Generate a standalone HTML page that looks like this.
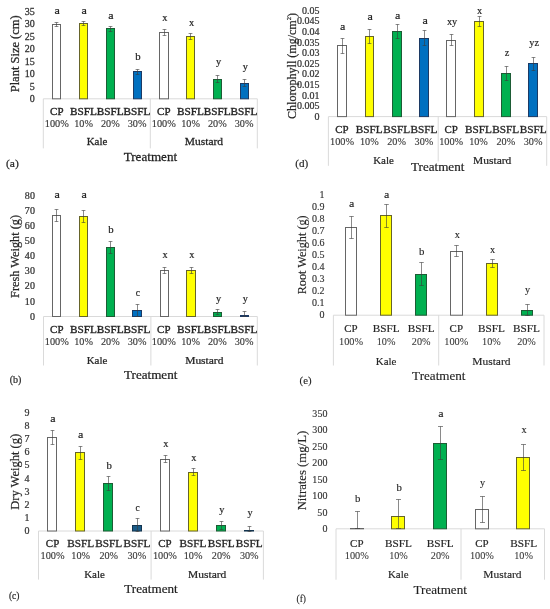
<!DOCTYPE html>
<html><head><meta charset="utf-8"><style>
html,body{margin:0;padding:0;background:#fff;}
svg{display:block; filter:blur(0.3px);}
text{font-family:"Liberation Serif", serif; stroke:currentColor;}
</style></head><body>
<svg width="550" height="609" viewBox="0 0 550 609">
<rect width="550" height="609" fill="#fff"/>
<path d="M43.30 98.80 V148.40 M150.30 98.80 V148.40 M257.30 98.80 V148.40" stroke="#dadada" stroke-width="1" fill="none"/>
<path d="M43.30 98.80 H257.30" stroke="#dadada" stroke-width="1" fill="none"/>
<text x="34.80" y="102.06" font-size="9.6" fill="#333333" color="#333333" text-anchor="end" stroke-width="0.255" textLength="5.00" lengthAdjust="spacingAndGlyphs" >0</text>
<text x="34.80" y="89.59" font-size="9.6" fill="#333333" color="#333333" text-anchor="end" stroke-width="0.255" textLength="5.00" lengthAdjust="spacingAndGlyphs" >5</text>
<text x="34.80" y="77.12" font-size="9.6" fill="#333333" color="#333333" text-anchor="end" stroke-width="0.255" textLength="10.01" lengthAdjust="spacingAndGlyphs" >10</text>
<text x="34.80" y="64.65" font-size="9.6" fill="#333333" color="#333333" text-anchor="end" stroke-width="0.255" textLength="10.01" lengthAdjust="spacingAndGlyphs" >15</text>
<text x="34.80" y="52.18" font-size="9.6" fill="#333333" color="#333333" text-anchor="end" stroke-width="0.255" textLength="10.01" lengthAdjust="spacingAndGlyphs" >20</text>
<text x="34.80" y="39.71" font-size="9.6" fill="#333333" color="#333333" text-anchor="end" stroke-width="0.255" textLength="10.01" lengthAdjust="spacingAndGlyphs" >25</text>
<text x="34.80" y="27.24" font-size="9.6" fill="#333333" color="#333333" text-anchor="end" stroke-width="0.255" textLength="10.01" lengthAdjust="spacingAndGlyphs" >30</text>
<text x="34.80" y="14.77" font-size="9.6" fill="#333333" color="#333333" text-anchor="end" stroke-width="0.255" textLength="10.01" lengthAdjust="spacingAndGlyphs" >35</text>
<rect x="52.50" y="24.50" width="8.00" height="74.30" fill="#ffffff" stroke="#666666" stroke-width="1"/>
<path d="M56.50 22.50 V26.50 M54.60 22.50 H58.40 M54.60 26.50 H58.40" stroke="#3a3a3a" stroke-width="0.6" fill="none"/>
<text x="57.10" y="14.10" font-size="10" fill="#222222" color="#222222" text-anchor="middle" stroke-width="0.187" textLength="5.34" lengthAdjust="spacingAndGlyphs" >a</text>
<rect x="79.50" y="23.50" width="8.00" height="75.30" fill="#ffff00" stroke="#66642a" stroke-width="1"/>
<path d="M83.50 21.50 V25.50 M81.60 21.50 H85.40 M81.60 25.50 H85.40" stroke="#3a3a3a" stroke-width="0.6" fill="none"/>
<text x="84.10" y="14.10" font-size="10" fill="#222222" color="#222222" text-anchor="middle" stroke-width="0.187" textLength="5.34" lengthAdjust="spacingAndGlyphs" >a</text>
<rect x="106.50" y="28.50" width="8.00" height="70.30" fill="#00b050" stroke="#1d5c35" stroke-width="1"/>
<path d="M110.50 26.50 V31.50 M108.60 26.50 H112.40 M108.60 31.50 H112.40" stroke="#3a3a3a" stroke-width="0.6" fill="none"/>
<text x="111.00" y="18.80" font-size="10" fill="#222222" color="#222222" text-anchor="middle" stroke-width="0.187" textLength="5.34" lengthAdjust="spacingAndGlyphs" >a</text>
<rect x="133.50" y="71.50" width="8.00" height="27.30" fill="#0070c0" stroke="#1c3a64" stroke-width="1"/>
<path d="M137.50 69.50 V74.50 M135.60 69.50 H139.40 M135.60 74.50 H139.40" stroke="#3a3a3a" stroke-width="0.6" fill="none"/>
<text x="137.90" y="60.20" font-size="10" fill="#222222" color="#222222" text-anchor="middle" stroke-width="0.187" textLength="5.34" lengthAdjust="spacingAndGlyphs" >b</text>
<rect x="159.50" y="32.50" width="9.00" height="66.30" fill="#ffffff" stroke="#666666" stroke-width="1"/>
<path d="M164.50 29.50 V35.50 M162.60 29.50 H166.40 M162.60 35.50 H166.40" stroke="#3a3a3a" stroke-width="0.6" fill="none"/>
<text x="164.80" y="21.30" font-size="10" fill="#222222" color="#222222" text-anchor="middle" stroke-width="0.187" textLength="5.16" lengthAdjust="spacingAndGlyphs" >x</text>
<rect x="186.50" y="36.50" width="8.00" height="62.30" fill="#ffff00" stroke="#66642a" stroke-width="1"/>
<path d="M190.50 33.50 V39.50 M188.60 33.50 H192.40 M188.60 39.50 H192.40" stroke="#3a3a3a" stroke-width="0.6" fill="none"/>
<text x="191.70" y="25.50" font-size="10" fill="#222222" color="#222222" text-anchor="middle" stroke-width="0.187" textLength="5.16" lengthAdjust="spacingAndGlyphs" >x</text>
<rect x="213.50" y="79.50" width="8.00" height="19.30" fill="#00b050" stroke="#1d5c35" stroke-width="1"/>
<path d="M217.50 75.50 V82.50 M215.60 75.50 H219.40 M215.60 82.50 H219.40" stroke="#3a3a3a" stroke-width="0.6" fill="none"/>
<text x="218.60" y="65.10" font-size="10" fill="#222222" color="#222222" text-anchor="middle" stroke-width="0.187" textLength="5.16" lengthAdjust="spacingAndGlyphs" >y</text>
<rect x="240.50" y="83.50" width="8.00" height="15.30" fill="#0070c0" stroke="#1c3a64" stroke-width="1"/>
<path d="M244.50 79.50 V86.50 M242.60 79.50 H246.40 M242.60 86.50 H246.40" stroke="#3a3a3a" stroke-width="0.6" fill="none"/>
<text x="245.40" y="69.60" font-size="10" fill="#222222" color="#222222" text-anchor="middle" stroke-width="0.187" textLength="5.16" lengthAdjust="spacingAndGlyphs" >y</text>
<text x="56.80" y="115.20" font-size="10" fill="#262626" color="#262626" text-anchor="middle" stroke-width="0.34" textLength="13.33" lengthAdjust="spacingAndGlyphs" >CP</text>
<text x="56.80" y="126.90" font-size="10.8" fill="#3a3a3a" color="#3a3a3a" text-anchor="middle" stroke-width="0.17" textLength="24.01" lengthAdjust="spacingAndGlyphs" >100%</text>
<text x="83.55" y="115.20" font-size="10" fill="#262626" color="#262626" text-anchor="middle" stroke-width="0.34" textLength="26.86" lengthAdjust="spacingAndGlyphs" >BSFL</text>
<text x="83.55" y="126.90" font-size="10.8" fill="#3a3a3a" color="#3a3a3a" text-anchor="middle" stroke-width="0.17" textLength="18.67" lengthAdjust="spacingAndGlyphs" >10%</text>
<text x="110.30" y="115.20" font-size="10" fill="#262626" color="#262626" text-anchor="middle" stroke-width="0.34" textLength="26.86" lengthAdjust="spacingAndGlyphs" >BSFL</text>
<text x="110.30" y="126.90" font-size="10.8" fill="#3a3a3a" color="#3a3a3a" text-anchor="middle" stroke-width="0.17" textLength="18.67" lengthAdjust="spacingAndGlyphs" >20%</text>
<text x="137.05" y="115.20" font-size="10" fill="#262626" color="#262626" text-anchor="middle" stroke-width="0.34" textLength="26.86" lengthAdjust="spacingAndGlyphs" >BSFL</text>
<text x="137.05" y="126.90" font-size="10.8" fill="#3a3a3a" color="#3a3a3a" text-anchor="middle" stroke-width="0.17" textLength="18.67" lengthAdjust="spacingAndGlyphs" >30%</text>
<text x="163.80" y="115.20" font-size="10" fill="#262626" color="#262626" text-anchor="middle" stroke-width="0.34" textLength="13.33" lengthAdjust="spacingAndGlyphs" >CP</text>
<text x="163.80" y="126.90" font-size="10.8" fill="#3a3a3a" color="#3a3a3a" text-anchor="middle" stroke-width="0.17" textLength="24.01" lengthAdjust="spacingAndGlyphs" >100%</text>
<text x="190.55" y="115.20" font-size="10" fill="#262626" color="#262626" text-anchor="middle" stroke-width="0.34" textLength="26.86" lengthAdjust="spacingAndGlyphs" >BSFL</text>
<text x="190.55" y="126.90" font-size="10.8" fill="#3a3a3a" color="#3a3a3a" text-anchor="middle" stroke-width="0.17" textLength="18.67" lengthAdjust="spacingAndGlyphs" >10%</text>
<text x="217.30" y="115.20" font-size="10" fill="#262626" color="#262626" text-anchor="middle" stroke-width="0.34" textLength="26.86" lengthAdjust="spacingAndGlyphs" >BSFL</text>
<text x="217.30" y="126.90" font-size="10.8" fill="#3a3a3a" color="#3a3a3a" text-anchor="middle" stroke-width="0.17" textLength="18.67" lengthAdjust="spacingAndGlyphs" >20%</text>
<text x="244.05" y="115.20" font-size="10" fill="#262626" color="#262626" text-anchor="middle" stroke-width="0.34" textLength="26.86" lengthAdjust="spacingAndGlyphs" >BSFL</text>
<text x="244.05" y="126.90" font-size="10.8" fill="#3a3a3a" color="#3a3a3a" text-anchor="middle" stroke-width="0.17" textLength="18.67" lengthAdjust="spacingAndGlyphs" >30%</text>
<text x="97.00" y="145.30" font-size="10" fill="#262626" color="#262626" text-anchor="middle" stroke-width="0.255" textLength="20.63" lengthAdjust="spacingAndGlyphs" >Kale</text>
<text x="204.00" y="145.30" font-size="10" fill="#262626" color="#262626" text-anchor="middle" stroke-width="0.255" textLength="38.22" lengthAdjust="spacingAndGlyphs" >Mustard</text>
<text x="150.40" y="161.00" font-size="13" fill="#1e1e1e" color="#1e1e1e" text-anchor="middle" stroke-width="0.255" textLength="53.41" lengthAdjust="spacingAndGlyphs" >Treatment</text>
<text x="6.00" y="166.50" font-size="11" fill="#262626" color="#262626" text-anchor="start" stroke-width="0.2125" textLength="12.77" lengthAdjust="spacingAndGlyphs" >(a)</text>
<text transform="translate(18.60 53.80) rotate(-90)" x="0" y="0" font-size="13.3" fill="#262626" color="#262626" stroke-width="0.26" text-anchor="middle" textLength="77.00" lengthAdjust="spacingAndGlyphs">Plant Size (cm)</text>
<path d="M328.40 116.60 V165.80 M438.20 116.60 V161.50 M546.70 116.60 V165.80" stroke="#dadada" stroke-width="1" fill="none"/>
<path d="M328.40 116.60 H546.70" stroke="#dadada" stroke-width="1" fill="none"/>
<text x="319.60" y="119.86" font-size="9.6" fill="#333333" color="#333333" text-anchor="end" stroke-width="0.21" textLength="5.00" lengthAdjust="spacingAndGlyphs" >0</text>
<text x="319.60" y="109.26" font-size="9.6" fill="#333333" color="#333333" text-anchor="end" stroke-width="0.21" textLength="22.52" lengthAdjust="spacingAndGlyphs" >0.005</text>
<text x="319.60" y="98.66" font-size="9.6" fill="#333333" color="#333333" text-anchor="end" stroke-width="0.21" textLength="17.51" lengthAdjust="spacingAndGlyphs" >0.01</text>
<text x="319.60" y="88.06" font-size="9.6" fill="#333333" color="#333333" text-anchor="end" stroke-width="0.21" textLength="22.52" lengthAdjust="spacingAndGlyphs" >0.015</text>
<text x="319.60" y="77.46" font-size="9.6" fill="#333333" color="#333333" text-anchor="end" stroke-width="0.21" textLength="17.51" lengthAdjust="spacingAndGlyphs" >0.02</text>
<text x="319.60" y="66.86" font-size="9.6" fill="#333333" color="#333333" text-anchor="end" stroke-width="0.21" textLength="22.52" lengthAdjust="spacingAndGlyphs" >0.025</text>
<text x="319.60" y="56.26" font-size="9.6" fill="#333333" color="#333333" text-anchor="end" stroke-width="0.21" textLength="17.51" lengthAdjust="spacingAndGlyphs" >0.03</text>
<text x="319.60" y="45.66" font-size="9.6" fill="#333333" color="#333333" text-anchor="end" stroke-width="0.21" textLength="22.52" lengthAdjust="spacingAndGlyphs" >0.035</text>
<text x="319.60" y="35.06" font-size="9.6" fill="#333333" color="#333333" text-anchor="end" stroke-width="0.21" textLength="17.51" lengthAdjust="spacingAndGlyphs" >0.04</text>
<text x="319.60" y="24.46" font-size="9.6" fill="#333333" color="#333333" text-anchor="end" stroke-width="0.21" textLength="22.52" lengthAdjust="spacingAndGlyphs" >0.045</text>
<text x="319.60" y="13.86" font-size="9.6" fill="#333333" color="#333333" text-anchor="end" stroke-width="0.21" textLength="17.51" lengthAdjust="spacingAndGlyphs" >0.05</text>
<rect x="337.50" y="45.50" width="9.00" height="71.10" fill="#ffffff" stroke="#666666" stroke-width="1"/>
<path d="M342.50 38.50 V53.50 M340.60 38.50 H344.40 M340.60 53.50 H344.40" stroke="#3a3a3a" stroke-width="0.6" fill="none"/>
<text x="342.80" y="29.60" font-size="10" fill="#222222" color="#222222" text-anchor="middle" stroke-width="0.154" textLength="5.34" lengthAdjust="spacingAndGlyphs" >a</text>
<rect x="365.50" y="36.50" width="8.00" height="80.10" fill="#ffff00" stroke="#66642a" stroke-width="1"/>
<path d="M369.50 29.50 V43.50 M367.60 29.50 H371.40 M367.60 43.50 H371.40" stroke="#3a3a3a" stroke-width="0.6" fill="none"/>
<text x="370.30" y="20.10" font-size="10" fill="#222222" color="#222222" text-anchor="middle" stroke-width="0.154" textLength="5.34" lengthAdjust="spacingAndGlyphs" >a</text>
<rect x="392.50" y="31.50" width="9.00" height="85.10" fill="#00b050" stroke="#1d5c35" stroke-width="1"/>
<path d="M397.50 24.50 V38.50 M395.60 24.50 H399.40 M395.60 38.50 H399.40" stroke="#3a3a3a" stroke-width="0.6" fill="none"/>
<text x="397.80" y="18.60" font-size="10" fill="#222222" color="#222222" text-anchor="middle" stroke-width="0.154" textLength="5.34" lengthAdjust="spacingAndGlyphs" >a</text>
<rect x="419.50" y="38.50" width="9.00" height="78.10" fill="#0070c0" stroke="#1c3a64" stroke-width="1"/>
<path d="M424.50 30.50 V45.50 M422.60 30.50 H426.40 M422.60 45.50 H426.40" stroke="#3a3a3a" stroke-width="0.6" fill="none"/>
<text x="425.20" y="23.70" font-size="10" fill="#222222" color="#222222" text-anchor="middle" stroke-width="0.154" textLength="5.34" lengthAdjust="spacingAndGlyphs" >a</text>
<rect x="446.50" y="40.50" width="9.00" height="76.10" fill="#ffffff" stroke="#666666" stroke-width="1"/>
<path d="M451.50 34.50 V45.50 M449.60 34.50 H453.40 M449.60 45.50 H453.40" stroke="#3a3a3a" stroke-width="0.6" fill="none"/>
<text x="452.10" y="24.90" font-size="10" fill="#222222" color="#222222" text-anchor="middle" stroke-width="0.154" textLength="10.31" lengthAdjust="spacingAndGlyphs" >xy</text>
<rect x="474.50" y="21.50" width="9.00" height="95.10" fill="#ffff00" stroke="#66642a" stroke-width="1"/>
<path d="M479.50 16.50 V26.50 M477.60 16.50 H481.40 M477.60 26.50 H481.40" stroke="#3a3a3a" stroke-width="0.6" fill="none"/>
<text x="479.60" y="13.60" font-size="10" fill="#222222" color="#222222" text-anchor="middle" stroke-width="0.154" textLength="5.16" lengthAdjust="spacingAndGlyphs" >x</text>
<rect x="501.50" y="73.50" width="9.00" height="43.10" fill="#00b050" stroke="#1d5c35" stroke-width="1"/>
<path d="M506.50 66.50 V80.50 M504.60 66.50 H508.40 M504.60 80.50 H508.40" stroke="#3a3a3a" stroke-width="0.6" fill="none"/>
<text x="507.10" y="56.20" font-size="10" fill="#222222" color="#222222" text-anchor="middle" stroke-width="0.154" textLength="4.62" lengthAdjust="spacingAndGlyphs" >z</text>
<rect x="528.50" y="63.50" width="9.00" height="53.10" fill="#0070c0" stroke="#1c3a64" stroke-width="1"/>
<path d="M533.50 57.50 V70.50 M531.60 57.50 H535.40 M531.60 70.50 H535.40" stroke="#3a3a3a" stroke-width="0.6" fill="none"/>
<text x="534.20" y="46.10" font-size="10" fill="#222222" color="#222222" text-anchor="middle" stroke-width="0.154" textLength="9.77" lengthAdjust="spacingAndGlyphs" >yz</text>
<text x="342.00" y="133.30" font-size="10" fill="#262626" color="#262626" text-anchor="middle" stroke-width="0.27999999999999997" textLength="13.33" lengthAdjust="spacingAndGlyphs" >CP</text>
<text x="342.00" y="144.90" font-size="10.8" fill="#3a3a3a" color="#3a3a3a" text-anchor="middle" stroke-width="0.13999999999999999" textLength="24.01" lengthAdjust="spacingAndGlyphs" >100%</text>
<text x="369.30" y="133.30" font-size="10" fill="#262626" color="#262626" text-anchor="middle" stroke-width="0.27999999999999997" textLength="26.86" lengthAdjust="spacingAndGlyphs" >BSFL</text>
<text x="369.30" y="144.90" font-size="10.8" fill="#3a3a3a" color="#3a3a3a" text-anchor="middle" stroke-width="0.13999999999999999" textLength="18.67" lengthAdjust="spacingAndGlyphs" >10%</text>
<text x="396.60" y="133.30" font-size="10" fill="#262626" color="#262626" text-anchor="middle" stroke-width="0.27999999999999997" textLength="26.86" lengthAdjust="spacingAndGlyphs" >BSFL</text>
<text x="396.60" y="144.90" font-size="10.8" fill="#3a3a3a" color="#3a3a3a" text-anchor="middle" stroke-width="0.13999999999999999" textLength="18.67" lengthAdjust="spacingAndGlyphs" >20%</text>
<text x="423.90" y="133.30" font-size="10" fill="#262626" color="#262626" text-anchor="middle" stroke-width="0.27999999999999997" textLength="26.86" lengthAdjust="spacingAndGlyphs" >BSFL</text>
<text x="423.90" y="144.90" font-size="10.8" fill="#3a3a3a" color="#3a3a3a" text-anchor="middle" stroke-width="0.13999999999999999" textLength="18.67" lengthAdjust="spacingAndGlyphs" >30%</text>
<text x="451.20" y="133.30" font-size="10" fill="#262626" color="#262626" text-anchor="middle" stroke-width="0.27999999999999997" textLength="13.33" lengthAdjust="spacingAndGlyphs" >CP</text>
<text x="451.20" y="144.90" font-size="10.8" fill="#3a3a3a" color="#3a3a3a" text-anchor="middle" stroke-width="0.13999999999999999" textLength="24.01" lengthAdjust="spacingAndGlyphs" >100%</text>
<text x="478.50" y="133.30" font-size="10" fill="#262626" color="#262626" text-anchor="middle" stroke-width="0.27999999999999997" textLength="26.86" lengthAdjust="spacingAndGlyphs" >BSFL</text>
<text x="478.50" y="144.90" font-size="10.8" fill="#3a3a3a" color="#3a3a3a" text-anchor="middle" stroke-width="0.13999999999999999" textLength="18.67" lengthAdjust="spacingAndGlyphs" >10%</text>
<text x="505.80" y="133.30" font-size="10" fill="#262626" color="#262626" text-anchor="middle" stroke-width="0.27999999999999997" textLength="26.86" lengthAdjust="spacingAndGlyphs" >BSFL</text>
<text x="505.80" y="144.90" font-size="10.8" fill="#3a3a3a" color="#3a3a3a" text-anchor="middle" stroke-width="0.13999999999999999" textLength="18.67" lengthAdjust="spacingAndGlyphs" >20%</text>
<text x="533.10" y="133.30" font-size="10" fill="#262626" color="#262626" text-anchor="middle" stroke-width="0.27999999999999997" textLength="26.86" lengthAdjust="spacingAndGlyphs" >BSFL</text>
<text x="533.10" y="144.90" font-size="10.8" fill="#3a3a3a" color="#3a3a3a" text-anchor="middle" stroke-width="0.13999999999999999" textLength="18.67" lengthAdjust="spacingAndGlyphs" >30%</text>
<text x="383.50" y="164.10" font-size="10" fill="#262626" color="#262626" text-anchor="middle" stroke-width="0.21" textLength="20.63" lengthAdjust="spacingAndGlyphs" >Kale</text>
<text x="492.20" y="164.10" font-size="10" fill="#262626" color="#262626" text-anchor="middle" stroke-width="0.21" textLength="38.22" lengthAdjust="spacingAndGlyphs" >Mustard</text>
<text x="437.70" y="171.00" font-size="13" fill="#1e1e1e" color="#1e1e1e" text-anchor="middle" stroke-width="0.21" textLength="53.41" lengthAdjust="spacingAndGlyphs" >Treatment</text>
<text x="295.30" y="167.00" font-size="11" fill="#262626" color="#262626" text-anchor="start" stroke-width="0.175" textLength="12.96" lengthAdjust="spacingAndGlyphs" >(d)</text>
<text transform="translate(296.20 66.00) rotate(-90)" x="0" y="0" font-size="13.0" fill="#262626" color="#262626" stroke-width="0.21" text-anchor="middle" textLength="106.00" lengthAdjust="spacingAndGlyphs">Chlorophyll (mg/cm<tspan font-size="7" dy="-5">2</tspan><tspan dy="5">)</tspan></text>
<path d="M43.50 316.50 V365.50 M150.90 316.50 V365.50 M257.30 316.50 V365.50" stroke="#dadada" stroke-width="1" fill="none"/>
<path d="M43.50 316.50 H257.30" stroke="#dadada" stroke-width="1" fill="none"/>
<text x="34.90" y="319.76" font-size="9.6" fill="#333333" color="#333333" text-anchor="end" stroke-width="0.24" textLength="5.00" lengthAdjust="spacingAndGlyphs" >0</text>
<text x="34.90" y="304.61" font-size="9.6" fill="#333333" color="#333333" text-anchor="end" stroke-width="0.24" textLength="10.01" lengthAdjust="spacingAndGlyphs" >10</text>
<text x="34.90" y="289.46" font-size="9.6" fill="#333333" color="#333333" text-anchor="end" stroke-width="0.24" textLength="10.01" lengthAdjust="spacingAndGlyphs" >20</text>
<text x="34.90" y="274.31" font-size="9.6" fill="#333333" color="#333333" text-anchor="end" stroke-width="0.24" textLength="10.01" lengthAdjust="spacingAndGlyphs" >30</text>
<text x="34.90" y="259.16" font-size="9.6" fill="#333333" color="#333333" text-anchor="end" stroke-width="0.24" textLength="10.01" lengthAdjust="spacingAndGlyphs" >40</text>
<text x="34.90" y="244.01" font-size="9.6" fill="#333333" color="#333333" text-anchor="end" stroke-width="0.24" textLength="10.01" lengthAdjust="spacingAndGlyphs" >50</text>
<text x="34.90" y="228.86" font-size="9.6" fill="#333333" color="#333333" text-anchor="end" stroke-width="0.24" textLength="10.01" lengthAdjust="spacingAndGlyphs" >60</text>
<text x="34.90" y="213.71" font-size="9.6" fill="#333333" color="#333333" text-anchor="end" stroke-width="0.24" textLength="10.01" lengthAdjust="spacingAndGlyphs" >70</text>
<text x="34.90" y="198.56" font-size="9.6" fill="#333333" color="#333333" text-anchor="end" stroke-width="0.24" textLength="10.01" lengthAdjust="spacingAndGlyphs" >80</text>
<rect x="52.50" y="215.50" width="8.00" height="101.00" fill="#ffffff" stroke="#666666" stroke-width="1"/>
<path d="M56.50 209.50 V221.50 M54.60 209.50 H58.40 M54.60 221.50 H58.40" stroke="#3a3a3a" stroke-width="0.6" fill="none"/>
<text x="57.30" y="197.60" font-size="10" fill="#222222" color="#222222" text-anchor="middle" stroke-width="0.17600000000000002" textLength="5.34" lengthAdjust="spacingAndGlyphs" >a</text>
<rect x="79.50" y="216.50" width="8.00" height="100.00" fill="#ffff00" stroke="#66642a" stroke-width="1"/>
<path d="M83.50 210.50 V222.50 M81.60 210.50 H85.40 M81.60 222.50 H85.40" stroke="#3a3a3a" stroke-width="0.6" fill="none"/>
<text x="84.30" y="197.60" font-size="10" fill="#222222" color="#222222" text-anchor="middle" stroke-width="0.17600000000000002" textLength="5.34" lengthAdjust="spacingAndGlyphs" >a</text>
<rect x="106.50" y="247.50" width="8.00" height="69.00" fill="#00b050" stroke="#1d5c35" stroke-width="1"/>
<path d="M110.50 241.50 V253.50 M108.60 241.50 H112.40 M108.60 253.50 H112.40" stroke="#3a3a3a" stroke-width="0.6" fill="none"/>
<text x="111.00" y="232.70" font-size="10" fill="#222222" color="#222222" text-anchor="middle" stroke-width="0.17600000000000002" textLength="5.34" lengthAdjust="spacingAndGlyphs" >b</text>
<rect x="132.50" y="310.50" width="9.00" height="6.00" fill="#0070c0" stroke="#1c3a64" stroke-width="1"/>
<path d="M137.50 304.50 V316.50 M135.60 304.50 H139.40 M135.60 316.50 H139.40" stroke="#3a3a3a" stroke-width="0.6" fill="none"/>
<text x="137.90" y="296.10" font-size="10" fill="#222222" color="#222222" text-anchor="middle" stroke-width="0.17600000000000002" textLength="4.26" lengthAdjust="spacingAndGlyphs" >c</text>
<rect x="160.50" y="270.50" width="8.00" height="46.00" fill="#ffffff" stroke="#666666" stroke-width="1"/>
<path d="M164.50 267.50 V273.50 M162.60 267.50 H166.40 M162.60 273.50 H166.40" stroke="#3a3a3a" stroke-width="0.6" fill="none"/>
<text x="165.00" y="257.60" font-size="10" fill="#222222" color="#222222" text-anchor="middle" stroke-width="0.17600000000000002" textLength="5.16" lengthAdjust="spacingAndGlyphs" >x</text>
<rect x="186.50" y="270.50" width="9.00" height="46.00" fill="#ffff00" stroke="#66642a" stroke-width="1"/>
<path d="M191.50 267.50 V273.50 M189.60 267.50 H193.40 M189.60 273.50 H193.40" stroke="#3a3a3a" stroke-width="0.6" fill="none"/>
<text x="191.80" y="258.30" font-size="10" fill="#222222" color="#222222" text-anchor="middle" stroke-width="0.17600000000000002" textLength="5.16" lengthAdjust="spacingAndGlyphs" >x</text>
<rect x="213.50" y="312.50" width="8.00" height="4.00" fill="#00b050" stroke="#1d5c35" stroke-width="1"/>
<path d="M217.50 309.50 V314.50 M215.60 309.50 H219.40 M215.60 314.50 H219.40" stroke="#3a3a3a" stroke-width="0.6" fill="none"/>
<text x="218.50" y="302.40" font-size="10" fill="#222222" color="#222222" text-anchor="middle" stroke-width="0.17600000000000002" textLength="5.16" lengthAdjust="spacingAndGlyphs" >y</text>
<rect x="240.50" y="315.50" width="8.00" height="1.00" fill="#0070c0" stroke="#1c3a64" stroke-width="1"/>
<path d="M244.50 311.50 V316.50 M242.60 311.50 H246.40 M242.60 316.50 H246.40" stroke="#3a3a3a" stroke-width="0.6" fill="none"/>
<text x="245.30" y="302.40" font-size="10" fill="#222222" color="#222222" text-anchor="middle" stroke-width="0.17600000000000002" textLength="5.16" lengthAdjust="spacingAndGlyphs" >y</text>
<text x="56.80" y="332.80" font-size="10" fill="#262626" color="#262626" text-anchor="middle" stroke-width="0.32000000000000006" textLength="13.33" lengthAdjust="spacingAndGlyphs" >CP</text>
<text x="56.80" y="345.30" font-size="10.8" fill="#3a3a3a" color="#3a3a3a" text-anchor="middle" stroke-width="0.16000000000000003" textLength="24.01" lengthAdjust="spacingAndGlyphs" >100%</text>
<text x="83.55" y="332.80" font-size="10" fill="#262626" color="#262626" text-anchor="middle" stroke-width="0.32000000000000006" textLength="26.86" lengthAdjust="spacingAndGlyphs" >BSFL</text>
<text x="83.55" y="345.30" font-size="10.8" fill="#3a3a3a" color="#3a3a3a" text-anchor="middle" stroke-width="0.16000000000000003" textLength="18.67" lengthAdjust="spacingAndGlyphs" >10%</text>
<text x="110.30" y="332.80" font-size="10" fill="#262626" color="#262626" text-anchor="middle" stroke-width="0.32000000000000006" textLength="26.86" lengthAdjust="spacingAndGlyphs" >BSFL</text>
<text x="110.30" y="345.30" font-size="10.8" fill="#3a3a3a" color="#3a3a3a" text-anchor="middle" stroke-width="0.16000000000000003" textLength="18.67" lengthAdjust="spacingAndGlyphs" >20%</text>
<text x="137.05" y="332.80" font-size="10" fill="#262626" color="#262626" text-anchor="middle" stroke-width="0.32000000000000006" textLength="26.86" lengthAdjust="spacingAndGlyphs" >BSFL</text>
<text x="137.05" y="345.30" font-size="10.8" fill="#3a3a3a" color="#3a3a3a" text-anchor="middle" stroke-width="0.16000000000000003" textLength="18.67" lengthAdjust="spacingAndGlyphs" >30%</text>
<text x="163.80" y="332.80" font-size="10" fill="#262626" color="#262626" text-anchor="middle" stroke-width="0.32000000000000006" textLength="13.33" lengthAdjust="spacingAndGlyphs" >CP</text>
<text x="163.80" y="345.30" font-size="10.8" fill="#3a3a3a" color="#3a3a3a" text-anchor="middle" stroke-width="0.16000000000000003" textLength="24.01" lengthAdjust="spacingAndGlyphs" >100%</text>
<text x="190.55" y="332.80" font-size="10" fill="#262626" color="#262626" text-anchor="middle" stroke-width="0.32000000000000006" textLength="26.86" lengthAdjust="spacingAndGlyphs" >BSFL</text>
<text x="190.55" y="345.30" font-size="10.8" fill="#3a3a3a" color="#3a3a3a" text-anchor="middle" stroke-width="0.16000000000000003" textLength="18.67" lengthAdjust="spacingAndGlyphs" >10%</text>
<text x="217.30" y="332.80" font-size="10" fill="#262626" color="#262626" text-anchor="middle" stroke-width="0.32000000000000006" textLength="26.86" lengthAdjust="spacingAndGlyphs" >BSFL</text>
<text x="217.30" y="345.30" font-size="10.8" fill="#3a3a3a" color="#3a3a3a" text-anchor="middle" stroke-width="0.16000000000000003" textLength="18.67" lengthAdjust="spacingAndGlyphs" >20%</text>
<text x="244.05" y="332.80" font-size="10" fill="#262626" color="#262626" text-anchor="middle" stroke-width="0.32000000000000006" textLength="26.86" lengthAdjust="spacingAndGlyphs" >BSFL</text>
<text x="244.05" y="345.30" font-size="10.8" fill="#3a3a3a" color="#3a3a3a" text-anchor="middle" stroke-width="0.16000000000000003" textLength="18.67" lengthAdjust="spacingAndGlyphs" >30%</text>
<text x="97.00" y="364.10" font-size="10" fill="#262626" color="#262626" text-anchor="middle" stroke-width="0.24" textLength="20.63" lengthAdjust="spacingAndGlyphs" >Kale</text>
<text x="204.30" y="364.10" font-size="10" fill="#262626" color="#262626" text-anchor="middle" stroke-width="0.24" textLength="38.22" lengthAdjust="spacingAndGlyphs" >Mustard</text>
<text x="150.70" y="379.00" font-size="13" fill="#1e1e1e" color="#1e1e1e" text-anchor="middle" stroke-width="0.24" textLength="53.41" lengthAdjust="spacingAndGlyphs" >Treatment</text>
<text x="9.80" y="382.60" font-size="10" fill="#262626" color="#262626" text-anchor="start" stroke-width="0.2" textLength="11.61" lengthAdjust="spacingAndGlyphs" >(b)</text>
<text transform="translate(18.60 256.40) rotate(-90)" x="0" y="0" font-size="13" fill="#262626" color="#262626" stroke-width="0.24" text-anchor="middle" textLength="83.00" lengthAdjust="spacingAndGlyphs">Fresh Weight (g)</text>
<path d="M333.40 315.20 V365.50 M438.70 315.20 V365.50 M544.00 315.20 V365.50" stroke="#dadada" stroke-width="1" fill="none"/>
<path d="M333.40 315.20 H544.00" stroke="#dadada" stroke-width="1" fill="none"/>
<text x="324.50" y="318.46" font-size="9.6" fill="#333333" color="#333333" text-anchor="end" stroke-width="0.135" textLength="5.00" lengthAdjust="spacingAndGlyphs" >0</text>
<text x="324.50" y="306.46" font-size="9.6" fill="#333333" color="#333333" text-anchor="end" stroke-width="0.135" textLength="12.51" lengthAdjust="spacingAndGlyphs" >0.1</text>
<text x="324.50" y="294.46" font-size="9.6" fill="#333333" color="#333333" text-anchor="end" stroke-width="0.135" textLength="12.51" lengthAdjust="spacingAndGlyphs" >0.2</text>
<text x="324.50" y="282.46" font-size="9.6" fill="#333333" color="#333333" text-anchor="end" stroke-width="0.135" textLength="12.51" lengthAdjust="spacingAndGlyphs" >0.3</text>
<text x="324.50" y="270.46" font-size="9.6" fill="#333333" color="#333333" text-anchor="end" stroke-width="0.135" textLength="12.51" lengthAdjust="spacingAndGlyphs" >0.4</text>
<text x="324.50" y="258.46" font-size="9.6" fill="#333333" color="#333333" text-anchor="end" stroke-width="0.135" textLength="12.51" lengthAdjust="spacingAndGlyphs" >0.5</text>
<text x="324.50" y="246.46" font-size="9.6" fill="#333333" color="#333333" text-anchor="end" stroke-width="0.135" textLength="12.51" lengthAdjust="spacingAndGlyphs" >0.6</text>
<text x="324.50" y="234.46" font-size="9.6" fill="#333333" color="#333333" text-anchor="end" stroke-width="0.135" textLength="12.51" lengthAdjust="spacingAndGlyphs" >0.7</text>
<text x="324.50" y="222.46" font-size="9.6" fill="#333333" color="#333333" text-anchor="end" stroke-width="0.135" textLength="12.51" lengthAdjust="spacingAndGlyphs" >0.8</text>
<text x="324.50" y="210.46" font-size="9.6" fill="#333333" color="#333333" text-anchor="end" stroke-width="0.135" textLength="12.51" lengthAdjust="spacingAndGlyphs" >0.9</text>
<text x="324.50" y="198.46" font-size="9.6" fill="#333333" color="#333333" text-anchor="end" stroke-width="0.135" textLength="5.00" lengthAdjust="spacingAndGlyphs" >1</text>
<rect x="345.50" y="227.50" width="11.00" height="87.70" fill="#ffffff" stroke="#666666" stroke-width="1"/>
<path d="M351.50 216.50 V238.50 M349.25 216.50 H353.75 M349.25 238.50 H353.75" stroke="#3a3a3a" stroke-width="0.6" fill="none"/>
<text x="351.60" y="207.10" font-size="10" fill="#222222" color="#222222" text-anchor="middle" stroke-width="0.099" textLength="5.34" lengthAdjust="spacingAndGlyphs" >a</text>
<rect x="380.50" y="215.50" width="11.00" height="99.70" fill="#ffff00" stroke="#66642a" stroke-width="1"/>
<path d="M386.50 204.50 V227.50 M384.25 204.50 H388.75 M384.25 227.50 H388.75" stroke="#3a3a3a" stroke-width="0.6" fill="none"/>
<text x="386.80" y="197.80" font-size="10" fill="#222222" color="#222222" text-anchor="middle" stroke-width="0.099" textLength="5.34" lengthAdjust="spacingAndGlyphs" >a</text>
<rect x="415.50" y="274.50" width="11.00" height="40.70" fill="#00b050" stroke="#1d5c35" stroke-width="1"/>
<path d="M421.50 262.50 V285.50 M419.25 262.50 H423.75 M419.25 285.50 H423.75" stroke="#3a3a3a" stroke-width="0.6" fill="none"/>
<text x="421.70" y="255.20" font-size="10" fill="#222222" color="#222222" text-anchor="middle" stroke-width="0.099" textLength="5.34" lengthAdjust="spacingAndGlyphs" >b</text>
<rect x="450.50" y="251.50" width="12.00" height="63.70" fill="#ffffff" stroke="#666666" stroke-width="1"/>
<path d="M456.50 245.50 V256.50 M454.25 245.50 H458.75 M454.25 256.50 H458.75" stroke="#3a3a3a" stroke-width="0.6" fill="none"/>
<text x="457.30" y="237.70" font-size="10" fill="#222222" color="#222222" text-anchor="middle" stroke-width="0.099" textLength="5.16" lengthAdjust="spacingAndGlyphs" >x</text>
<rect x="486.50" y="263.50" width="11.00" height="51.70" fill="#ffff00" stroke="#66642a" stroke-width="1"/>
<path d="M492.50 259.50 V267.50 M490.25 259.50 H494.75 M490.25 267.50 H494.75" stroke="#3a3a3a" stroke-width="0.6" fill="none"/>
<text x="492.50" y="252.70" font-size="10" fill="#222222" color="#222222" text-anchor="middle" stroke-width="0.099" textLength="5.16" lengthAdjust="spacingAndGlyphs" >x</text>
<rect x="521.50" y="310.50" width="11.00" height="4.70" fill="#00b050" stroke="#1d5c35" stroke-width="1"/>
<path d="M527.50 304.50 V315.50 M525.25 304.50 H529.75 M525.25 315.50 H529.75" stroke="#3a3a3a" stroke-width="0.6" fill="none"/>
<text x="527.70" y="293.20" font-size="10" fill="#222222" color="#222222" text-anchor="middle" stroke-width="0.099" textLength="5.16" lengthAdjust="spacingAndGlyphs" >y</text>
<text x="351.00" y="332.30" font-size="10" fill="#262626" color="#262626" text-anchor="middle" stroke-width="0.18000000000000002" textLength="13.33" lengthAdjust="spacingAndGlyphs" >CP</text>
<text x="351.00" y="344.90" font-size="10.8" fill="#3a3a3a" color="#3a3a3a" text-anchor="middle" stroke-width="0.09000000000000001" textLength="24.01" lengthAdjust="spacingAndGlyphs" >100%</text>
<text x="386.10" y="332.30" font-size="10" fill="#262626" color="#262626" text-anchor="middle" stroke-width="0.18000000000000002" textLength="26.86" lengthAdjust="spacingAndGlyphs" >BSFL</text>
<text x="386.10" y="344.90" font-size="10.8" fill="#3a3a3a" color="#3a3a3a" text-anchor="middle" stroke-width="0.09000000000000001" textLength="18.67" lengthAdjust="spacingAndGlyphs" >10%</text>
<text x="421.20" y="332.30" font-size="10" fill="#262626" color="#262626" text-anchor="middle" stroke-width="0.18000000000000002" textLength="26.86" lengthAdjust="spacingAndGlyphs" >BSFL</text>
<text x="421.20" y="344.90" font-size="10.8" fill="#3a3a3a" color="#3a3a3a" text-anchor="middle" stroke-width="0.09000000000000001" textLength="18.67" lengthAdjust="spacingAndGlyphs" >20%</text>
<text x="456.30" y="332.30" font-size="10" fill="#262626" color="#262626" text-anchor="middle" stroke-width="0.18000000000000002" textLength="13.33" lengthAdjust="spacingAndGlyphs" >CP</text>
<text x="456.30" y="344.90" font-size="10.8" fill="#3a3a3a" color="#3a3a3a" text-anchor="middle" stroke-width="0.09000000000000001" textLength="24.01" lengthAdjust="spacingAndGlyphs" >100%</text>
<text x="491.40" y="332.30" font-size="10" fill="#262626" color="#262626" text-anchor="middle" stroke-width="0.18000000000000002" textLength="26.86" lengthAdjust="spacingAndGlyphs" >BSFL</text>
<text x="491.40" y="344.90" font-size="10.8" fill="#3a3a3a" color="#3a3a3a" text-anchor="middle" stroke-width="0.09000000000000001" textLength="18.67" lengthAdjust="spacingAndGlyphs" >10%</text>
<text x="526.50" y="332.30" font-size="10" fill="#262626" color="#262626" text-anchor="middle" stroke-width="0.18000000000000002" textLength="26.86" lengthAdjust="spacingAndGlyphs" >BSFL</text>
<text x="526.50" y="344.90" font-size="10.8" fill="#3a3a3a" color="#3a3a3a" text-anchor="middle" stroke-width="0.09000000000000001" textLength="18.67" lengthAdjust="spacingAndGlyphs" >20%</text>
<text x="386.10" y="364.70" font-size="10" fill="#262626" color="#262626" text-anchor="middle" stroke-width="0.135" textLength="20.63" lengthAdjust="spacingAndGlyphs" >Kale</text>
<text x="491.40" y="364.70" font-size="10" fill="#262626" color="#262626" text-anchor="middle" stroke-width="0.135" textLength="38.22" lengthAdjust="spacingAndGlyphs" >Mustard</text>
<text x="438.80" y="380.00" font-size="13" fill="#1e1e1e" color="#1e1e1e" text-anchor="middle" stroke-width="0.135" textLength="53.41" lengthAdjust="spacingAndGlyphs" >Treatment</text>
<text x="299.60" y="384.00" font-size="10.8" fill="#262626" color="#262626" text-anchor="start" stroke-width="0.1125" textLength="11.96" lengthAdjust="spacingAndGlyphs" >(e)</text>
<text transform="translate(306.00 254.80) rotate(-90)" x="0" y="0" font-size="13" fill="#262626" color="#262626" stroke-width="0.14" text-anchor="middle" textLength="79.00" lengthAdjust="spacingAndGlyphs">Root Weight (g)</text>
<path d="M38.50 531.00 V579.60 M151.10 531.00 V579.60 M263.40 531.00 V579.60" stroke="#dadada" stroke-width="1" fill="none"/>
<path d="M38.50 531.00 H263.40" stroke="#dadada" stroke-width="1" fill="none"/>
<text x="29.60" y="534.26" font-size="9.6" fill="#333333" color="#333333" text-anchor="end" stroke-width="0.21" textLength="5.00" lengthAdjust="spacingAndGlyphs" >0</text>
<text x="29.60" y="521.08" font-size="9.6" fill="#333333" color="#333333" text-anchor="end" stroke-width="0.21" textLength="5.00" lengthAdjust="spacingAndGlyphs" >1</text>
<text x="29.60" y="507.90" font-size="9.6" fill="#333333" color="#333333" text-anchor="end" stroke-width="0.21" textLength="5.00" lengthAdjust="spacingAndGlyphs" >2</text>
<text x="29.60" y="494.72" font-size="9.6" fill="#333333" color="#333333" text-anchor="end" stroke-width="0.21" textLength="5.00" lengthAdjust="spacingAndGlyphs" >3</text>
<text x="29.60" y="481.54" font-size="9.6" fill="#333333" color="#333333" text-anchor="end" stroke-width="0.21" textLength="5.00" lengthAdjust="spacingAndGlyphs" >4</text>
<text x="29.60" y="468.36" font-size="9.6" fill="#333333" color="#333333" text-anchor="end" stroke-width="0.21" textLength="5.00" lengthAdjust="spacingAndGlyphs" >5</text>
<text x="29.60" y="455.18" font-size="9.6" fill="#333333" color="#333333" text-anchor="end" stroke-width="0.21" textLength="5.00" lengthAdjust="spacingAndGlyphs" >6</text>
<text x="29.60" y="442.00" font-size="9.6" fill="#333333" color="#333333" text-anchor="end" stroke-width="0.21" textLength="5.00" lengthAdjust="spacingAndGlyphs" >7</text>
<text x="29.60" y="428.82" font-size="9.6" fill="#333333" color="#333333" text-anchor="end" stroke-width="0.21" textLength="5.00" lengthAdjust="spacingAndGlyphs" >8</text>
<text x="29.60" y="415.64" font-size="9.6" fill="#333333" color="#333333" text-anchor="end" stroke-width="0.21" textLength="5.00" lengthAdjust="spacingAndGlyphs" >9</text>
<rect x="47.50" y="437.50" width="9.00" height="93.50" fill="#ffffff" stroke="#666666" stroke-width="1"/>
<path d="M52.50 430.50 V444.50 M50.60 430.50 H54.40 M50.60 444.50 H54.40" stroke="#3a3a3a" stroke-width="0.6" fill="none"/>
<text x="52.90" y="422.10" font-size="10" fill="#222222" color="#222222" text-anchor="middle" stroke-width="0.154" textLength="5.34" lengthAdjust="spacingAndGlyphs" >a</text>
<rect x="75.50" y="452.50" width="9.00" height="78.50" fill="#ffff00" stroke="#66642a" stroke-width="1"/>
<path d="M80.50 446.50 V459.50 M78.60 446.50 H82.40 M78.60 459.50 H82.40" stroke="#3a3a3a" stroke-width="0.6" fill="none"/>
<text x="80.80" y="437.90" font-size="10" fill="#222222" color="#222222" text-anchor="middle" stroke-width="0.154" textLength="5.34" lengthAdjust="spacingAndGlyphs" >a</text>
<rect x="103.50" y="483.50" width="9.00" height="47.50" fill="#00b050" stroke="#1d5c35" stroke-width="1"/>
<path d="M108.50 476.50 V490.50 M106.60 476.50 H110.40 M106.60 490.50 H110.40" stroke="#3a3a3a" stroke-width="0.6" fill="none"/>
<text x="109.20" y="469.40" font-size="10" fill="#222222" color="#222222" text-anchor="middle" stroke-width="0.154" textLength="5.34" lengthAdjust="spacingAndGlyphs" >b</text>
<rect x="132.50" y="525.50" width="9.00" height="5.50" fill="#1a5c88" stroke="#13344f" stroke-width="1"/>
<path d="M137.50 518.50 V531.50 M135.60 518.50 H139.40 M135.60 531.50 H139.40" stroke="#3a3a3a" stroke-width="0.6" fill="none"/>
<text x="137.60" y="510.90" font-size="10" fill="#222222" color="#222222" text-anchor="middle" stroke-width="0.154" textLength="4.26" lengthAdjust="spacingAndGlyphs" >c</text>
<rect x="160.50" y="459.50" width="9.00" height="71.50" fill="#ffffff" stroke="#666666" stroke-width="1"/>
<path d="M165.50 455.50 V462.50 M163.60 455.50 H167.40 M163.60 462.50 H167.40" stroke="#3a3a3a" stroke-width="0.6" fill="none"/>
<text x="165.80" y="447.10" font-size="10" fill="#222222" color="#222222" text-anchor="middle" stroke-width="0.154" textLength="5.16" lengthAdjust="spacingAndGlyphs" >x</text>
<rect x="188.50" y="472.50" width="9.00" height="58.50" fill="#ffff00" stroke="#66642a" stroke-width="1"/>
<path d="M193.50 468.50 V475.50 M191.60 468.50 H195.40 M191.60 475.50 H195.40" stroke="#3a3a3a" stroke-width="0.6" fill="none"/>
<text x="193.80" y="460.70" font-size="10" fill="#222222" color="#222222" text-anchor="middle" stroke-width="0.154" textLength="5.16" lengthAdjust="spacingAndGlyphs" >x</text>
<rect x="216.50" y="525.50" width="9.00" height="5.50" fill="#00b050" stroke="#1d5c35" stroke-width="1"/>
<path d="M221.50 521.50 V529.50 M219.60 521.50 H223.40 M219.60 529.50 H223.40" stroke="#3a3a3a" stroke-width="0.6" fill="none"/>
<text x="221.80" y="513.10" font-size="10" fill="#222222" color="#222222" text-anchor="middle" stroke-width="0.154" textLength="5.16" lengthAdjust="spacingAndGlyphs" >y</text>
<rect x="244.50" y="530.50" width="9.00" height="0.50" fill="#1a5c88" stroke="#13344f" stroke-width="1"/>
<path d="M249.50 526.50 V531.50 M247.60 526.50 H251.40 M247.60 531.50 H251.40" stroke="#3a3a3a" stroke-width="0.6" fill="none"/>
<text x="250.20" y="515.80" font-size="10" fill="#222222" color="#222222" text-anchor="middle" stroke-width="0.154" textLength="5.16" lengthAdjust="spacingAndGlyphs" >y</text>
<text x="52.55" y="547.30" font-size="10" fill="#262626" color="#262626" text-anchor="middle" stroke-width="0.27999999999999997" textLength="13.33" lengthAdjust="spacingAndGlyphs" >CP</text>
<text x="52.55" y="559.00" font-size="10.8" fill="#3a3a3a" color="#3a3a3a" text-anchor="middle" stroke-width="0.13999999999999999" textLength="24.01" lengthAdjust="spacingAndGlyphs" >100%</text>
<text x="80.65" y="547.30" font-size="10" fill="#262626" color="#262626" text-anchor="middle" stroke-width="0.27999999999999997" textLength="26.86" lengthAdjust="spacingAndGlyphs" >BSFL</text>
<text x="80.65" y="559.00" font-size="10.8" fill="#3a3a3a" color="#3a3a3a" text-anchor="middle" stroke-width="0.13999999999999999" textLength="18.67" lengthAdjust="spacingAndGlyphs" >10%</text>
<text x="108.75" y="547.30" font-size="10" fill="#262626" color="#262626" text-anchor="middle" stroke-width="0.27999999999999997" textLength="26.86" lengthAdjust="spacingAndGlyphs" >BSFL</text>
<text x="108.75" y="559.00" font-size="10.8" fill="#3a3a3a" color="#3a3a3a" text-anchor="middle" stroke-width="0.13999999999999999" textLength="18.67" lengthAdjust="spacingAndGlyphs" >20%</text>
<text x="136.85" y="547.30" font-size="10" fill="#262626" color="#262626" text-anchor="middle" stroke-width="0.27999999999999997" textLength="26.86" lengthAdjust="spacingAndGlyphs" >BSFL</text>
<text x="136.85" y="559.00" font-size="10.8" fill="#3a3a3a" color="#3a3a3a" text-anchor="middle" stroke-width="0.13999999999999999" textLength="18.67" lengthAdjust="spacingAndGlyphs" >30%</text>
<text x="164.95" y="547.30" font-size="10" fill="#262626" color="#262626" text-anchor="middle" stroke-width="0.27999999999999997" textLength="13.33" lengthAdjust="spacingAndGlyphs" >CP</text>
<text x="164.95" y="559.00" font-size="10.8" fill="#3a3a3a" color="#3a3a3a" text-anchor="middle" stroke-width="0.13999999999999999" textLength="24.01" lengthAdjust="spacingAndGlyphs" >100%</text>
<text x="193.05" y="547.30" font-size="10" fill="#262626" color="#262626" text-anchor="middle" stroke-width="0.27999999999999997" textLength="26.86" lengthAdjust="spacingAndGlyphs" >BSFL</text>
<text x="193.05" y="559.00" font-size="10.8" fill="#3a3a3a" color="#3a3a3a" text-anchor="middle" stroke-width="0.13999999999999999" textLength="18.67" lengthAdjust="spacingAndGlyphs" >10%</text>
<text x="221.15" y="547.30" font-size="10" fill="#262626" color="#262626" text-anchor="middle" stroke-width="0.27999999999999997" textLength="26.86" lengthAdjust="spacingAndGlyphs" >BSFL</text>
<text x="221.15" y="559.00" font-size="10.8" fill="#3a3a3a" color="#3a3a3a" text-anchor="middle" stroke-width="0.13999999999999999" textLength="18.67" lengthAdjust="spacingAndGlyphs" >20%</text>
<text x="249.25" y="547.30" font-size="10" fill="#262626" color="#262626" text-anchor="middle" stroke-width="0.27999999999999997" textLength="26.86" lengthAdjust="spacingAndGlyphs" >BSFL</text>
<text x="249.25" y="559.00" font-size="10.8" fill="#3a3a3a" color="#3a3a3a" text-anchor="middle" stroke-width="0.13999999999999999" textLength="18.67" lengthAdjust="spacingAndGlyphs" >30%</text>
<text x="94.50" y="578.00" font-size="10" fill="#262626" color="#262626" text-anchor="middle" stroke-width="0.21" textLength="20.63" lengthAdjust="spacingAndGlyphs" >Kale</text>
<text x="207.20" y="578.00" font-size="10" fill="#262626" color="#262626" text-anchor="middle" stroke-width="0.21" textLength="38.22" lengthAdjust="spacingAndGlyphs" >Mustard</text>
<text x="151.00" y="593.40" font-size="13" fill="#1e1e1e" color="#1e1e1e" text-anchor="middle" stroke-width="0.21" textLength="53.41" lengthAdjust="spacingAndGlyphs" >Treatment</text>
<text x="8.90" y="599.30" font-size="10" fill="#262626" color="#262626" text-anchor="start" stroke-width="0.175" textLength="10.55" lengthAdjust="spacingAndGlyphs" >(c)</text>
<text transform="translate(18.80 471.80) rotate(-90)" x="0" y="0" font-size="13" fill="#262626" color="#262626" stroke-width="0.21" text-anchor="middle" textLength="76.00" lengthAdjust="spacingAndGlyphs">Dry Weight (g)</text>
<path d="M336.00 528.80 V579.70 M461.00 528.80 V579.70 M544.50 528.80 V579.70" stroke="#dadada" stroke-width="1" fill="none"/>
<path d="M336.00 528.80 H544.50" stroke="#dadada" stroke-width="1" fill="none"/>
<text x="327.40" y="532.00" font-size="9.4" fill="#333333" color="#333333" text-anchor="end" stroke-width="0.135" textLength="5.00" lengthAdjust="spacingAndGlyphs" >0</text>
<text x="327.40" y="515.57" font-size="9.4" fill="#333333" color="#333333" text-anchor="end" stroke-width="0.135" textLength="10.01" lengthAdjust="spacingAndGlyphs" >50</text>
<text x="327.40" y="499.14" font-size="9.4" fill="#333333" color="#333333" text-anchor="end" stroke-width="0.135" textLength="15.01" lengthAdjust="spacingAndGlyphs" >100</text>
<text x="327.40" y="482.71" font-size="9.4" fill="#333333" color="#333333" text-anchor="end" stroke-width="0.135" textLength="15.01" lengthAdjust="spacingAndGlyphs" >150</text>
<text x="327.40" y="466.28" font-size="9.4" fill="#333333" color="#333333" text-anchor="end" stroke-width="0.135" textLength="15.01" lengthAdjust="spacingAndGlyphs" >200</text>
<text x="327.40" y="449.85" font-size="9.4" fill="#333333" color="#333333" text-anchor="end" stroke-width="0.135" textLength="15.01" lengthAdjust="spacingAndGlyphs" >250</text>
<text x="327.40" y="433.42" font-size="9.4" fill="#333333" color="#333333" text-anchor="end" stroke-width="0.135" textLength="15.01" lengthAdjust="spacingAndGlyphs" >300</text>
<text x="327.40" y="416.99" font-size="9.4" fill="#333333" color="#333333" text-anchor="end" stroke-width="0.135" textLength="15.01" lengthAdjust="spacingAndGlyphs" >350</text>
<rect x="350.50" y="528.50" width="13.00" height="0.30" fill="#ffffff" stroke="#666666" stroke-width="1"/>
<path d="M357.50 511.50 V528.50 M355.00 511.50 H360.00 M355.00 528.50 H360.00" stroke="#3a3a3a" stroke-width="0.6" fill="none"/>
<text x="357.60" y="502.20" font-size="10" fill="#222222" color="#222222" text-anchor="middle" stroke-width="0.099" textLength="5.34" lengthAdjust="spacingAndGlyphs" >b</text>
<rect x="391.50" y="516.50" width="13.00" height="12.30" fill="#ffff00" stroke="#66642a" stroke-width="1"/>
<path d="M398.50 499.50 V528.50 M396.00 499.50 H401.00 M396.00 528.50 H401.00" stroke="#3a3a3a" stroke-width="0.6" fill="none"/>
<text x="399.20" y="491.40" font-size="10" fill="#222222" color="#222222" text-anchor="middle" stroke-width="0.099" textLength="5.34" lengthAdjust="spacingAndGlyphs" >b</text>
<rect x="433.50" y="443.50" width="13.00" height="85.30" fill="#00b050" stroke="#1d5c35" stroke-width="1"/>
<path d="M440.50 426.50 V459.50 M438.00 426.50 H443.00 M438.00 459.50 H443.00" stroke="#3a3a3a" stroke-width="0.6" fill="none"/>
<text x="441.00" y="416.60" font-size="10" fill="#222222" color="#222222" text-anchor="middle" stroke-width="0.099" textLength="5.34" lengthAdjust="spacingAndGlyphs" >a</text>
<rect x="475.50" y="509.50" width="13.00" height="19.30" fill="#ffffff" stroke="#666666" stroke-width="1"/>
<path d="M482.50 496.50 V522.50 M480.00 496.50 H485.00 M480.00 522.50 H485.00" stroke="#3a3a3a" stroke-width="0.6" fill="none"/>
<text x="482.60" y="486.40" font-size="10" fill="#222222" color="#222222" text-anchor="middle" stroke-width="0.099" textLength="5.16" lengthAdjust="spacingAndGlyphs" >y</text>
<rect x="516.50" y="457.50" width="13.00" height="71.30" fill="#ffff00" stroke="#66642a" stroke-width="1"/>
<path d="M523.50 444.50 V470.50 M521.00 444.50 H526.00 M521.00 470.50 H526.00" stroke="#3a3a3a" stroke-width="0.6" fill="none"/>
<text x="524.20" y="433.40" font-size="10" fill="#222222" color="#222222" text-anchor="middle" stroke-width="0.099" textLength="5.16" lengthAdjust="spacingAndGlyphs" >x</text>
<text x="356.80" y="546.50" font-size="10" fill="#262626" color="#262626" text-anchor="middle" stroke-width="0.18000000000000002" textLength="13.33" lengthAdjust="spacingAndGlyphs" >CP</text>
<text x="356.80" y="559.00" font-size="10.8" fill="#3a3a3a" color="#3a3a3a" text-anchor="middle" stroke-width="0.09000000000000001" textLength="24.01" lengthAdjust="spacingAndGlyphs" >100%</text>
<text x="398.50" y="546.50" font-size="10" fill="#262626" color="#262626" text-anchor="middle" stroke-width="0.18000000000000002" textLength="26.86" lengthAdjust="spacingAndGlyphs" >BSFL</text>
<text x="398.50" y="559.00" font-size="10.8" fill="#3a3a3a" color="#3a3a3a" text-anchor="middle" stroke-width="0.09000000000000001" textLength="18.67" lengthAdjust="spacingAndGlyphs" >10%</text>
<text x="440.20" y="546.50" font-size="10" fill="#262626" color="#262626" text-anchor="middle" stroke-width="0.18000000000000002" textLength="26.86" lengthAdjust="spacingAndGlyphs" >BSFL</text>
<text x="440.20" y="559.00" font-size="10.8" fill="#3a3a3a" color="#3a3a3a" text-anchor="middle" stroke-width="0.09000000000000001" textLength="18.67" lengthAdjust="spacingAndGlyphs" >20%</text>
<text x="481.90" y="546.50" font-size="10" fill="#262626" color="#262626" text-anchor="middle" stroke-width="0.18000000000000002" textLength="13.33" lengthAdjust="spacingAndGlyphs" >CP</text>
<text x="481.90" y="559.00" font-size="10.8" fill="#3a3a3a" color="#3a3a3a" text-anchor="middle" stroke-width="0.09000000000000001" textLength="24.01" lengthAdjust="spacingAndGlyphs" >100%</text>
<text x="523.60" y="546.50" font-size="10" fill="#262626" color="#262626" text-anchor="middle" stroke-width="0.18000000000000002" textLength="26.86" lengthAdjust="spacingAndGlyphs" >BSFL</text>
<text x="523.60" y="559.00" font-size="10.8" fill="#3a3a3a" color="#3a3a3a" text-anchor="middle" stroke-width="0.09000000000000001" textLength="18.67" lengthAdjust="spacingAndGlyphs" >10%</text>
<text x="398.30" y="578.20" font-size="10" fill="#262626" color="#262626" text-anchor="middle" stroke-width="0.135" textLength="20.63" lengthAdjust="spacingAndGlyphs" >Kale</text>
<text x="502.50" y="578.20" font-size="10" fill="#262626" color="#262626" text-anchor="middle" stroke-width="0.135" textLength="38.22" lengthAdjust="spacingAndGlyphs" >Mustard</text>
<text x="440.20" y="593.70" font-size="13" fill="#1e1e1e" color="#1e1e1e" text-anchor="middle" stroke-width="0.135" textLength="53.41" lengthAdjust="spacingAndGlyphs" >Treatment</text>
<text x="296.50" y="601.80" font-size="10" fill="#262626" color="#262626" text-anchor="start" stroke-width="0.1125" textLength="9.49" lengthAdjust="spacingAndGlyphs" >(f)</text>
<text transform="translate(306.20 470.60) rotate(-90)" x="0" y="0" font-size="13.3" fill="#262626" color="#262626" stroke-width="0.14" text-anchor="middle" textLength="79.50" lengthAdjust="spacingAndGlyphs">Nitrates (mg/L)</text>
</svg>
</body></html>
